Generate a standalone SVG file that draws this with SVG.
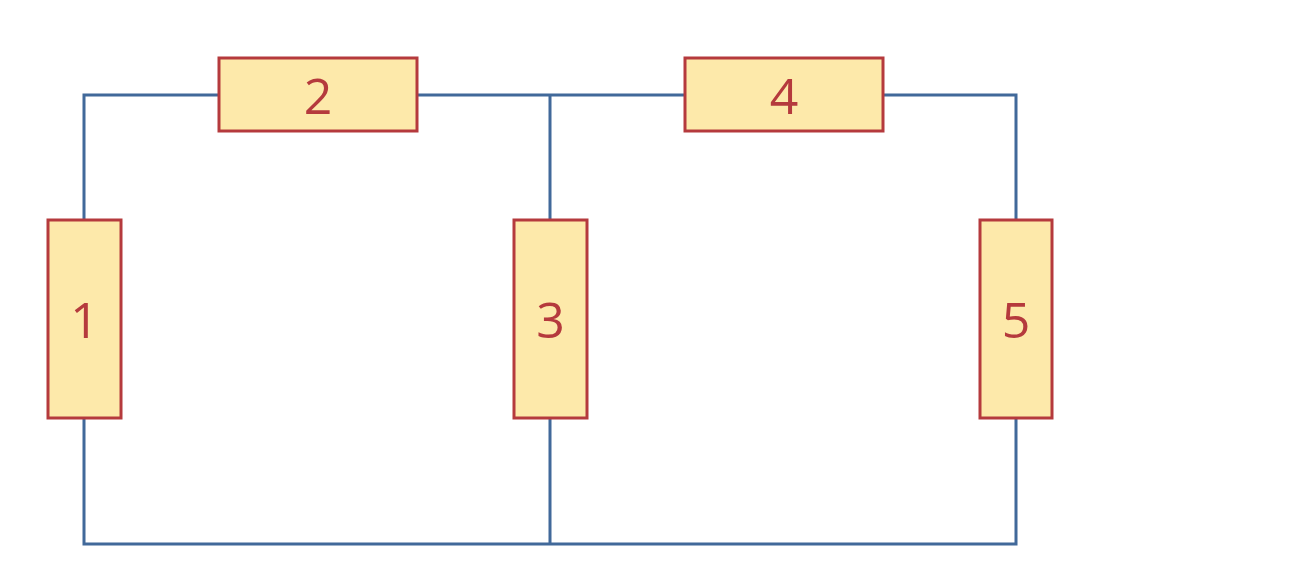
<svg xmlns="http://www.w3.org/2000/svg" width="1314" height="582" viewBox="0 0 1314 582">
<style>
.w{fill:none;stroke:#41699a;stroke-width:3}
.r{fill:#fde9aa;stroke:#b53a3d;stroke-width:3}
.t{font-family:"Open Sans","Liberation Sans",sans-serif;font-size:50px;fill:#b53a3d;text-anchor:middle;dominant-baseline:central}
</style>
<rect width="1314" height="582" fill="#fff"/>
<g id="connectors">
<path class="w" d="M84 220V95H219M417 95H685M883 95H1016V220M550 95V220M84 418V544H1016V418M550 418V544"/>
</g>
<g id="r1"><rect class="r" x="48" y="220" width="73" height="198"/><text class="t" x="84.5" y="319">1</text></g>
<g id="r2"><rect class="r" x="219" y="58" width="198" height="73"/><text class="t" x="318" y="94.5">2</text></g>
<g id="r3"><rect class="r" x="514" y="220" width="73" height="198"/><text class="t" x="550.5" y="319">3</text></g>
<g id="r4"><rect class="r" x="685" y="58" width="198" height="73"/><text class="t" x="784" y="94.5">4</text></g>
<g id="r5"><rect class="r" x="980" y="220" width="72" height="198"/><text class="t" x="1016" y="319">5</text></g>
</svg>
